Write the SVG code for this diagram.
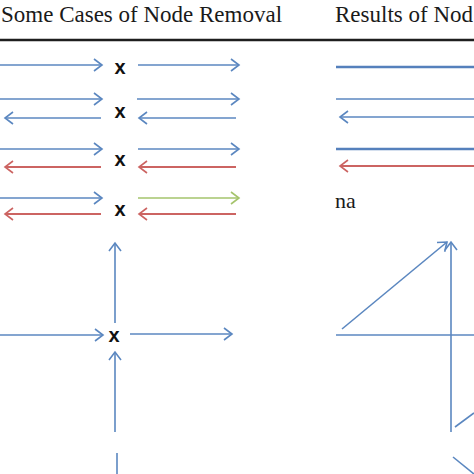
<svg xmlns="http://www.w3.org/2000/svg" width="474" height="474" viewBox="0 0 474 474">
<defs>
<style>
.t{font-family:"Liberation Serif","Times New Roman",serif;font-size:23px;fill:#1a1a1a}
.x{font-family:"Liberation Sans",Arial,sans-serif;font-size:20px;font-weight:bold;fill:#111;text-anchor:middle;dominant-baseline:central}
.b{stroke:#5b87c0;stroke-width:1.6;fill:none}
.r{stroke:#cc6462;stroke-width:1.8;fill:none}
.g{stroke:#a5c46c;stroke-width:1.6;fill:none}
.bt{stroke:#5580bc;stroke-width:2.4;fill:none}
.ab{marker-end:url(#mb)}
.ar{marker-end:url(#mr)}
.ag{marker-end:url(#mg)}
</style>
<marker id="mb" markerUnits="userSpaceOnUse" markerWidth="12" markerHeight="14" refX="9" refY="7" orient="auto" overflow="visible"><path d="M1,1 L9,7 L1,13" fill="none" stroke="#5b87c0" stroke-width="1.6"/></marker>
<marker id="mr" markerUnits="userSpaceOnUse" markerWidth="12" markerHeight="14" refX="9" refY="7" orient="auto" overflow="visible"><path d="M1,1 L9,7 L1,13" fill="none" stroke="#cc6462" stroke-width="1.6"/></marker>
<marker id="mg" markerUnits="userSpaceOnUse" markerWidth="12" markerHeight="14" refX="9" refY="7" orient="auto" overflow="visible"><path d="M1,1 L9,7 L1,13" fill="none" stroke="#a5c46c" stroke-width="1.6"/></marker>
</defs>
<rect width="474" height="474" fill="#fff"/>
<g id="header">
<text class="t" x="1" y="22">Some Cases of Node Removal</text>
<text class="t" x="335" y="22">Results of Nod</text>
<line x1="0" y1="40" x2="474" y2="40" stroke="#1e1e1e" stroke-width="2.6"/>
</g>
<g id="nodes">
<g id="n1"><text class="x" x="120" y="67">x</text></g>
<g id="n2"><text class="x" x="120" y="111">x</text></g>
<g id="n3"><text class="x" x="120" y="159">x</text></g>
<g id="n4"><text class="x" x="120" y="209">x</text></g>
<g id="n5"><text class="x" x="114" y="335">x</text></g>
<g id="na"><text class="t" x="335" y="208" style="font-size:22px">na</text></g>
</g>
<g id="connectors">
<line class="b ab" x1="0" y1="65" x2="102" y2="65"/>
<line class="b ab" x1="138" y1="65" x2="239" y2="65"/>
<line class="b ab" x1="0" y1="99" x2="102" y2="99"/>
<line class="b ab" x1="137" y1="99" x2="239" y2="99"/>
<line class="b ab" x1="101" y1="118" x2="5" y2="118"/>
<line class="b ab" x1="236" y1="118" x2="139" y2="118"/>
<line class="b ab" x1="0" y1="149" x2="102" y2="149"/>
<line class="b ab" x1="138" y1="149" x2="239" y2="149"/>
<line class="r ar" x1="101" y1="167" x2="5" y2="167"/>
<line class="r ar" x1="236" y1="167" x2="139" y2="167"/>
<line class="b ab" x1="0" y1="198" x2="102" y2="198"/>
<line class="g ag" x1="138" y1="198" x2="239" y2="198"/>
<line class="r ar" x1="101" y1="214" x2="5" y2="214"/>
<line class="r ar" x1="236" y1="214" x2="139" y2="214"/>
<line class="bt" x1="336" y1="67" x2="474" y2="67"/>
<line class="b" x1="336" y1="99" x2="474" y2="99"/>
<line class="b ab" x1="474" y1="117" x2="340" y2="117"/>
<line class="bt" x1="336" y1="149" x2="474" y2="149"/>
<line class="r ar" x1="474" y1="166" x2="340" y2="166"/>
<line class="b ab" x1="115" y1="323" x2="115" y2="243"/>
<line class="b ab" x1="0" y1="335" x2="103" y2="335"/>
<line class="b ab" x1="130" y1="334" x2="232" y2="334"/>
<line class="b ab" x1="115" y1="432" x2="115" y2="352"/>
<line class="b" x1="117" y1="453" x2="117" y2="474"/>
<line class="b ab" x1="342" y1="329" x2="447" y2="242"/>
<line class="b ab" x1="451" y1="432" x2="451" y2="242"/>
<line class="b" x1="336" y1="335" x2="474" y2="335"/>
<line class="b" x1="455" y1="427" x2="474" y2="413"/>
<line class="b" x1="453" y1="457" x2="474" y2="474"/>
</g>
</svg>
